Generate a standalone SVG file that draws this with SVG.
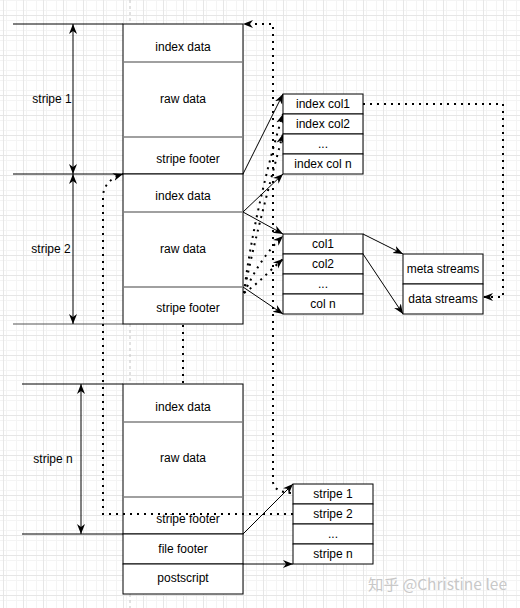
<svg xmlns="http://www.w3.org/2000/svg" width="520" height="608" viewBox="0 0 520 608">
<defs>
<pattern id="gridMinor" x="3" y="15" width="10" height="10" patternUnits="userSpaceOnUse">
<path d="M0,0.5 H10 M0.5,0 V10" fill="none" stroke="#f4f4f4" stroke-width="1"/>
</pattern>
<pattern id="grid" x="3" y="15" width="20" height="20" patternUnits="userSpaceOnUse">
<rect width="20" height="20" fill="url(#gridMinor)"/>
<path d="M0,0.5 H20 M0.5,0 V20" fill="none" stroke="#e6e6e6" stroke-width="1"/>
</pattern>
<marker id="arr" viewBox="0 0 10 10" refX="10" refY="5" markerWidth="10" markerHeight="10" markerUnits="userSpaceOnUse" orient="auto-start-reverse">
<path d="M0,1 L10,5 L0,9 L3,5 z" fill="#000"/>
</marker>
</defs>
<style>
text{font-family:"Liberation Sans",Arial,sans-serif;font-size:12px;fill:#000;text-anchor:middle}
.box{fill:#fff;stroke:#000;stroke-width:1}
.div{stroke:#808080;stroke-width:1.5}
.ln{fill:none;stroke:#000;stroke-width:1}
.dot{fill:none;stroke:#000;stroke-width:2;stroke-dasharray:2 5}
.wm{font-family:"Noto Sans CJK SC","Liberation Sans",sans-serif;font-size:15px;fill:#c8c8c8;text-anchor:start}
</style>
<rect width="520" height="608" fill="#fff"/>
<rect width="520" height="608" fill="url(#grid)"/>
<line x1="130" y1="0" x2="130" y2="608" stroke="#c4c4c4" stroke-width="1" stroke-dasharray="3 3"/>

<g id="measures">
<line class="ln" x1="13" y1="24" x2="123" y2="24"/>
<line class="ln" x1="13" y1="174" x2="123" y2="174"/>
<line x1="13" y1="324" x2="123" y2="324" stroke="#555" stroke-width="1.2"/>
<line class="ln" x1="22" y1="384" x2="123" y2="384"/>
<line class="ln" x1="22" y1="534" x2="123" y2="534"/>
<line class="ln" x1="73" y1="24" x2="73" y2="174" marker-start="url(#arr)" marker-end="url(#arr)"/>
<line class="ln" x1="73" y1="174" x2="73" y2="324" marker-start="url(#arr)" marker-end="url(#arr)"/>
<line class="ln" x1="81" y1="384" x2="81" y2="534" marker-start="url(#arr)" marker-end="url(#arr)"/>
<text x="52" y="103">stripe 1</text>
<text x="51" y="253">stripe 2</text>
<text x="53" y="463">stripe n</text>
</g>

<g id="stripe1">
<rect class="box" x="123" y="24" width="120" height="150"/>
<line class="div" x1="123.5" y1="62" x2="242.5" y2="62"/>
<line class="div" x1="123.5" y1="137" x2="242.5" y2="137"/>
<text x="183" y="51">index data</text>
<text x="183" y="103">raw data</text>
<text x="188" y="163">stripe footer</text>
</g>

<g id="stripe2">
<rect class="box" x="123" y="174" width="120" height="150"/>
<line class="div" x1="123.5" y1="212" x2="242.5" y2="212"/>
<line class="div" x1="123.5" y1="287" x2="242.5" y2="287"/>
<text x="183" y="200">index data</text>
<text x="183" y="253">raw data</text>
<text x="188" y="312">stripe footer</text>
</g>

<g id="stripeN">
<rect class="box" x="123" y="384" width="120" height="150"/>
<line class="div" x1="123.5" y1="422" x2="242.5" y2="422"/>
<line class="div" x1="123.5" y1="497" x2="242.5" y2="497"/>
<text x="183" y="411">index data</text>
<text x="183" y="462">raw data</text>
<text x="188" y="523">stripe footer</text>
</g>

<g id="fileFooter">
<rect class="box" x="123" y="534" width="120" height="30"/>
<text x="183" y="553">file footer</text>
</g>
<g id="postscript">
<rect class="box" x="123" y="564" width="120" height="30"/>
<text x="183" y="582">postscript</text>
</g>

<g id="connectors">
<path class="dot" d="M183,325 V384"/>
<path class="dot" d="M293,514 H103 V196 Q104,180 123,174" marker-end="url(#arr)"/>
<path class="dot" d="M291,493 Q274,492 273,482 V24 H243" marker-end="url(#arr)"/>
<path class="dot" d="M363,104 H503 V297 H483" marker-end="url(#arr)"/>
<path class="dot" d="M244,293 C250,240 266,170 283,114" marker-end="url(#arr)"/>
<path class="dot" d="M244,293 C252,250 268,190 283,134" marker-end="url(#arr)"/>
<path class="dot" d="M244,293 C254,272 266,252 283,236" marker-end="url(#arr)"/>
<path class="dot" d="M244,293 C258,284 268,272 283,259" marker-end="url(#arr)"/>
<path class="ln" d="M243,174 L283,94" marker-end="url(#arr)"/>
<path class="ln" d="M243,212 L283,174" marker-end="url(#arr)"/>
<path class="ln" d="M243,212 L283,234" marker-end="url(#arr)"/>
<path class="ln" d="M243,287 L283,314" marker-end="url(#arr)"/>
<path class="ln" d="M363,234 L403,254" marker-end="url(#arr)"/>
<path class="ln" d="M363,254 L403,314" marker-end="url(#arr)"/>
<path class="ln" d="M243,534 L293,484" marker-end="url(#arr)"/>
<path class="ln" d="M243,564 L293,564" marker-end="url(#arr)"/>
</g>

<g id="indexCols">
<rect class="box" x="283" y="94" width="80" height="20"/>
<rect class="box" x="283" y="114" width="80" height="20"/>
<rect class="box" x="283" y="134" width="80" height="20"/>
<rect class="box" x="283" y="154" width="80" height="20"/>
<text x="323" y="108">index col1</text>
<text x="323" y="128">index col2</text>
<text x="323" y="148">...</text>
<text x="323" y="168">index col n</text>
</g>

<g id="cols">
<rect class="box" x="283" y="234" width="80" height="20"/>
<rect class="box" x="283" y="254" width="80" height="20"/>
<rect class="box" x="283" y="274" width="80" height="20"/>
<rect class="box" x="283" y="294" width="80" height="20"/>
<text x="323" y="248">col1</text>
<text x="323" y="268">col2</text>
<text x="323" y="288">...</text>
<text x="323" y="308">col n</text>
</g>

<g id="streams">
<rect class="box" x="403" y="254" width="80" height="30"/>
<rect class="box" x="403" y="284" width="80" height="30"/>
<text x="443" y="273">meta streams</text>
<text x="443" y="303">data streams</text>
</g>

<g id="stripeList">
<rect class="box" x="293" y="484" width="80" height="20"/>
<rect class="box" x="293" y="504" width="80" height="20"/>
<rect class="box" x="293" y="524" width="80" height="20"/>
<rect class="box" x="293" y="544" width="80" height="20"/>
<text x="333" y="498">stripe 1</text>
<text x="333" y="518">stripe 2</text>
<text x="333" y="538">...</text>
<text x="333" y="558">stripe n</text>
</g>

<text class="wm" x="368" y="590" textLength="139" lengthAdjust="spacingAndGlyphs">知乎 @Christine lee</text>
</svg>
